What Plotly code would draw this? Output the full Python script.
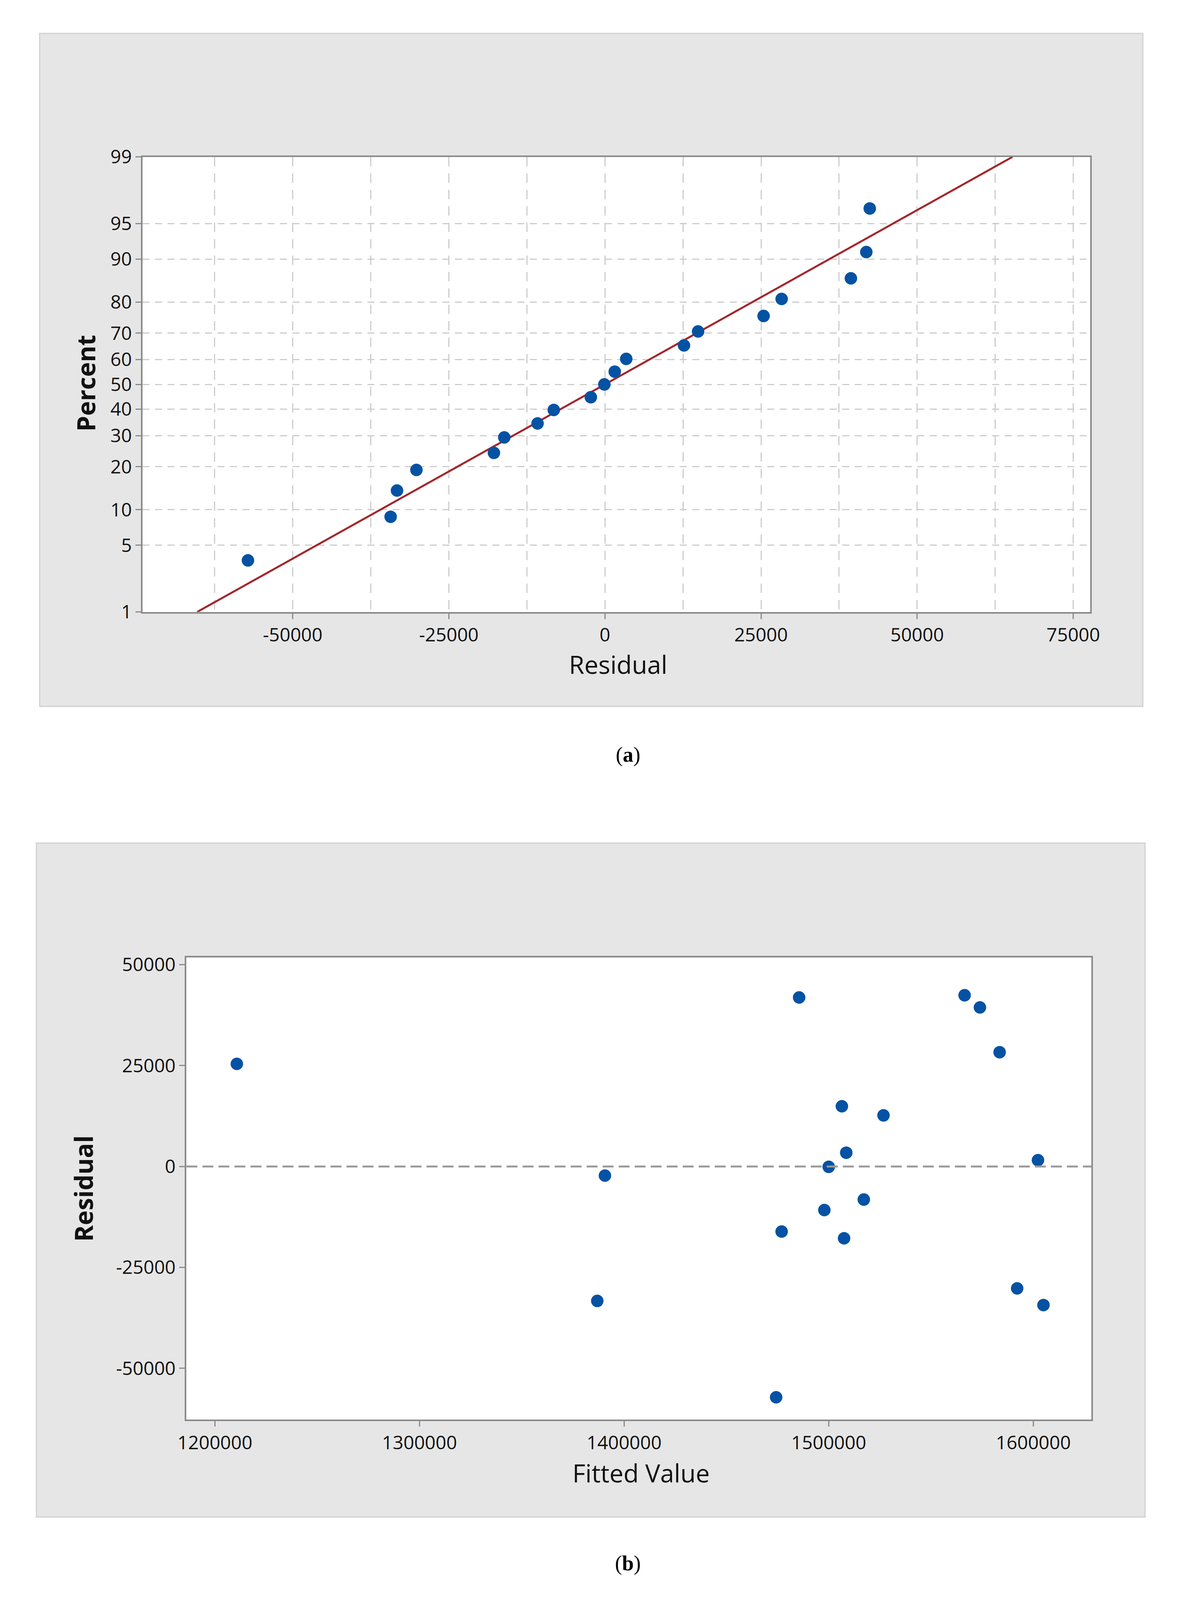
import statistics
import plotly.graph_objects as go

# residuals (same order as fitted values)
fitted = [1210710, 1386880, 1390620, 1474300, 1476980, 1485540, 1497860, 1500000, 1506430,
          1507500, 1508570, 1517140, 1526770, 1566400, 1573900, 1583530, 1592100, 1602270, 1604950]
residual = [25410, -33300, -2260, -57170, -16120, 41860, -10790, -90, 14920,
            -17780, 3410, -8190, 12660, 42410, 39390, 28300, -30190, 1570, -34320]

# percent positions on the probability plot (sorted residuals)
percent = [3.6, 8.8, 13.9, 19.1, 24.2, 29.4, 34.5, 39.7, 44.8, 50.0,
           55.2, 60.3, 65.5, 70.6, 75.8, 80.9, 86.1, 91.2, 96.4]
pct_ticks = [1, 5, 10, 20, 30, 40, 50, 60, 70, 80, 90, 95, 99]
res_ticks = [-50000, -25000, 0, 25000, 50000, 75000]
fit_ticks = [1200000, 1300000, 1400000, 1500000, 1600000]
res2_ticks = [-50000, -25000, 0, 25000, 50000]

nd = statistics.NormalDist()
z = lambda p: nd.inv_cdf(p / 100.0)

# normal fit line
mu = statistics.mean(residual)
sd = statistics.stdev(residual)
zl = [z(1), z(99)]
xl = [mu + sd * v for v in zl]

BLUE = "#0452A3"
RED = "#A3262A"
GRID = "#CDCDCD"
AX = "#8A8A8A"
TXT = "#111111"
FONT = "Open Sans"

fig = go.Figure()
fig.add_trace(go.Scatter(x=xl, y=zl, mode="lines", line=dict(color=RED, width=5),
                         xaxis="x", yaxis="y", hoverinfo="skip"))
fig.add_trace(go.Scatter(x=sorted(residual), y=[z(p) for p in percent], mode="markers",
                         marker=dict(color=BLUE, size=32), xaxis="x", yaxis="y"))
fig.add_trace(go.Scatter(x=fitted, y=residual, mode="markers",
                         marker=dict(color=BLUE, size=32), xaxis="x2", yaxis="y2"))

tickfont = dict(family=FONT, size=48, color=TXT)
common = dict(showline=True, linecolor=AX, linewidth=4, mirror=True, ticks="outside",
              ticklen=14, tickwidth=3, tickcolor=AX, tickfont=tickfont, zeroline=False)
hgrid = dict(showgrid=True, gridcolor=GRID, gridwidth=3, griddash="18px,14px")
vgrid = dict(showgrid=True, gridcolor=GRID, gridwidth=3, griddash="24px,18px")

top_x = [0.1151, 0.9311]
top_y = [0.6198, 0.9088]
bot_x = [0.1528, 0.9321]
bot_y = [0.1069, 0.4003]

fig.update_layout(
    autosize=True,
    margin=dict(l=0, r=0, t=0, b=0),
    paper_bgcolor="white", plot_bgcolor="white",
    showlegend=False,
    xaxis=dict(domain=top_x, anchor="y", range=[-74035, 77719], tickvals=res_ticks,
               ticktext=[str(v) for v in res_ticks],
               minor=dict(dtick=12500, tick0=0, gridcolor=GRID, gridwidth=3,
                          griddash="24px,18px", showgrid=True, ticks=""),
               **vgrid, **common),
    yaxis=dict(domain=top_y, anchor="x", range=zl, tickvals=[z(p) for p in pct_ticks],
               ticktext=[str(p) for p in pct_ticks], **hgrid, **common),
    xaxis2=dict(domain=bot_x, anchor="y2", range=[1186078, 1628380], tickvals=fit_ticks,
                ticktext=[str(v) for v in fit_ticks], showgrid=False, **common),
    yaxis2=dict(domain=bot_y, anchor="x2", range=[-62687, 51741], tickvals=res2_ticks,
                ticktext=[str(v) for v in res2_ticks], showgrid=False, **common),
)

# gray panels with white plot areas
for bx, by in [([0.0264, 0.9764], [0.5598, 0.9872]), ([0.0236, 0.9783], [0.0450, 0.4730])]:
    fig.add_shape(type="rect", xref="paper", yref="paper", x0=bx[0], x1=bx[1], y0=by[0], y1=by[1],
                  fillcolor="#E6E6E6", line=dict(color="#D2D2D2", width=3), layer="below")
for dx, dy in [(top_x, top_y), (bot_x, bot_y)]:
    fig.add_shape(type="rect", xref="paper", yref="paper", x0=dx[0], x1=dx[1], y0=dy[0], y1=dy[1],
                  fillcolor="white", line=dict(width=0), layer="below")

# reference line at zero
fig.add_shape(type="line", xref="x2 domain", yref="y2", x0=0, x1=1, y0=0, y1=0,
              line=dict(color="#9A9A9A", width=5, dash="28px,13px"))

title_font = dict(family=FONT, size=64, color=TXT)
ann = [
    dict(x=0.5245, y=0.5866, text="Residual", textangle=0),
    dict(x=0.066, y=0.7652, text="<b>Percent</b>", textangle=-90),
    dict(x=0.5443, y=0.0730, text="Fitted Value", textangle=0),
    dict(x=0.0642, y=0.2536, text="<b>Residual</b>", textangle=-90),
]
for a in ann:
    fig.add_annotation(xref="paper", yref="paper", showarrow=False, font=title_font,
                       xanchor="center", yanchor="middle", **a)

for txt, yy in [("(<b>a</b>)", 0.5292), ("(<b>b</b>)", 0.0156)]:
    fig.add_annotation(xref="paper", yref="paper", x=0.533, y=yy, text=txt, showarrow=False,
                       font=dict(family="Liberation Serif", size=54, color="black"),
                       xanchor="center", yanchor="middle")

post = ("document.body.style.margin='0';document.body.style.overflow='hidden';"
        "Plotly.Plots.resize(document.getElementById('{plot_id}'));")
fig.write_html("out.html", default_width="100%", default_height="100vh",
               config={"responsive": True, "displayModeBar": False}, post_script=post)
